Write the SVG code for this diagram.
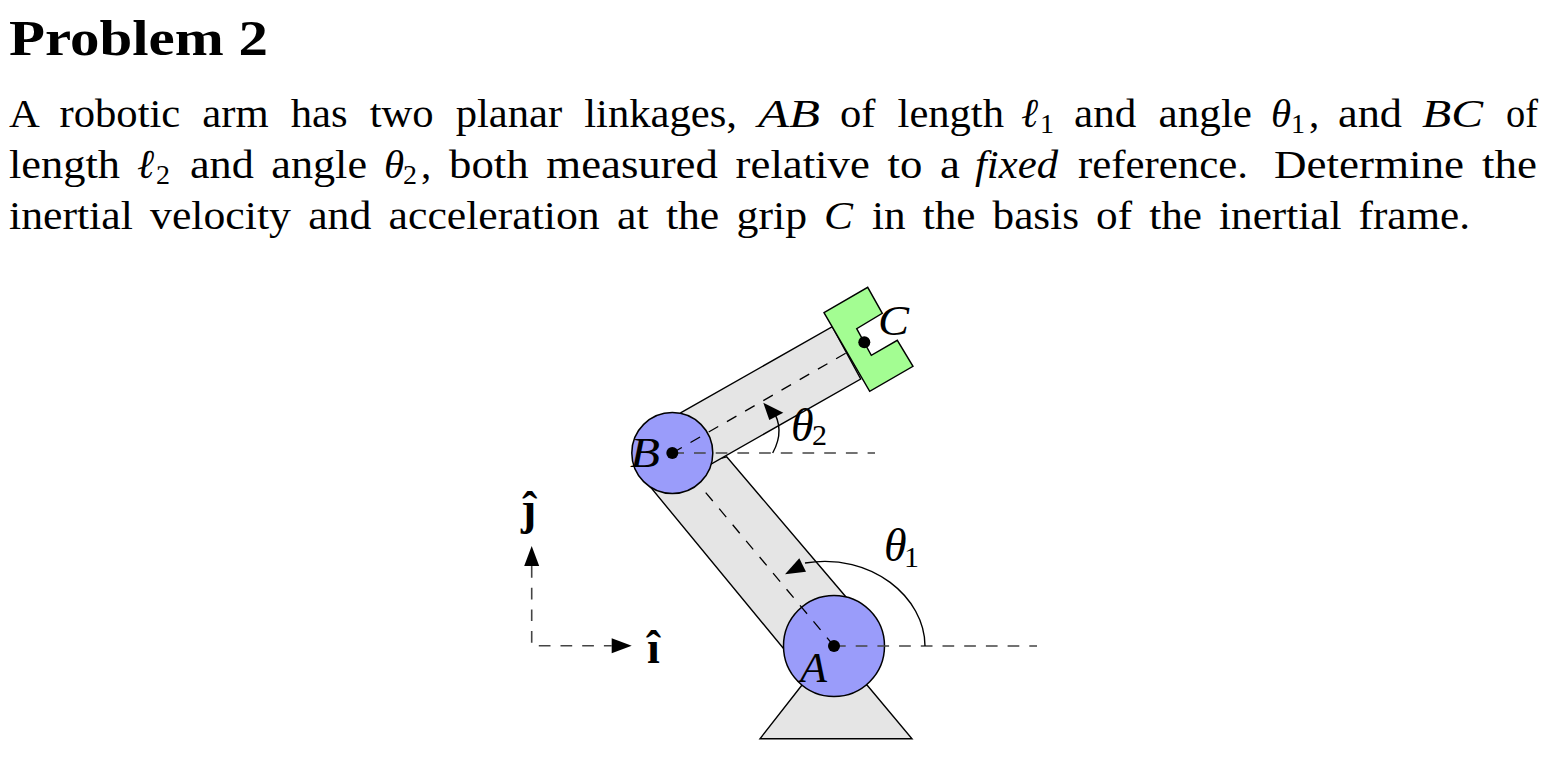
<svg xmlns="http://www.w3.org/2000/svg" width="1556" height="776" viewBox="0 0 1556 776">
<style>
text{font-family:"Liberation Serif","DejaVu Serif",serif;font-size:41px;fill:#000}
.i{font-style:italic}
.s{font-size:28px}
.w1{word-spacing:11px}
.w2{word-spacing:6px}
.h{font-weight:bold;font-size:50px}
.l{font-size:42px;font-style:italic}
.t{font-size:46px;font-style:italic}
.ls{font-size:30px}
.b{font-weight:bold;font-size:46px}
.link{fill:#e5e5e5;stroke:#000;stroke-width:1.4}
.joint{fill:#9a9cfa;stroke:#000;stroke-width:1.5}
.d1{fill:none;stroke:#000;stroke-width:1.3;stroke-dasharray:11 10}
.d2{fill:none;stroke:#444;stroke-width:1.6;stroke-dasharray:11.7 10}
.arc{fill:none;stroke:#000;stroke-width:1.4}
</style>
<rect width="1556" height="776" fill="#fff"/>
<g id="text-block">
<text class="h" x="9" y="55" textLength="259" lengthAdjust="spacingAndGlyphs">Problem 2</text>
<text class="w1" x="9" y="127" textLength="728" lengthAdjust="spacingAndGlyphs">A robotic arm has two planar linkages,</text>
<text class="i" x="758" y="127" textLength="62" lengthAdjust="spacingAndGlyphs">AB</text>
<text class="w1" x="840" y="127" textLength="164" lengthAdjust="spacingAndGlyphs">of length</text>
<text class="i" x="1021" y="127">ℓ</text><text class="s" x="1040" y="133">1</text>
<text class="w1" x="1074" y="127" textLength="178" lengthAdjust="spacingAndGlyphs">and angle</text>
<text class="i" x="1271" y="127">θ</text><text class="s" x="1291" y="133">1</text><text x="1309" y="127">,</text>
<text x="1338" y="127" textLength="64" lengthAdjust="spacingAndGlyphs">and</text>
<text class="i" x="1422" y="127" textLength="61" lengthAdjust="spacingAndGlyphs">BC</text>
<text x="1506" y="127" textLength="32" lengthAdjust="spacingAndGlyphs">of</text>
<text x="9" y="178" textLength="111" lengthAdjust="spacingAndGlyphs">length</text>
<text class="i" x="137" y="178">ℓ</text><text class="s" x="156" y="184">2</text>
<text class="w2" x="190" y="178" textLength="177" lengthAdjust="spacingAndGlyphs">and angle</text>
<text class="i" x="384" y="178">θ</text><text class="s" x="403" y="184">2</text><text x="421" y="178">,</text>
<text class="w2" x="449" y="178" textLength="511" lengthAdjust="spacingAndGlyphs">both measured relative to a</text>
<text class="i" x="975" y="178" textLength="83" lengthAdjust="spacingAndGlyphs">fixed</text>
<text x="1078" y="178" textLength="170" lengthAdjust="spacingAndGlyphs">reference.</text>
<text class="w2" x="1274" y="178" textLength="263" lengthAdjust="spacingAndGlyphs">Determine the</text>
<text class="w2" x="9" y="229" textLength="798" lengthAdjust="spacingAndGlyphs">inertial velocity and acceleration at the grip</text>
<text class="i" x="824" y="229" textLength="29" lengthAdjust="spacingAndGlyphs">C</text>
<text class="w2" x="872" y="229" textLength="598" lengthAdjust="spacingAndGlyphs">in the basis of the inertial frame.</text>
</g>
<g id="base"><polygon class="link" points="802,685 867,685 912,738.7 760,738.7"/></g>
<g id="link-ab"><polygon class="link" points="643,478 726.7,456.7 846,597 783.3,648.3"/></g>
<g id="joint-a"><circle class="joint" cx="834" cy="646" r="50.5"/></g>
<g id="link-bc"><polygon class="link" points="681,412.7 832.3,326.7 860.7,379 710.7,464.3"/></g>
<g id="joint-b"><circle class="joint" cx="672.3" cy="453" r="40.5"/></g>
<g id="gripper"><polygon points="824,312.7 867.7,287.3 882.3,313.3 856.7,328.7 871.3,355.3 897.3,340.3 913,366.3 869.7,391.3" fill="#a3fd92" stroke="#000" stroke-width="1.4"/></g>
<g id="connectors">
<path class="d1" d="M834 646L705 491.7"/>
<path class="d1" d="M672.3 453L846 353"/>
<path class="d2" d="M834 646H1037"/>
<path class="d2" d="M672.3 453H875"/>
<path class="d2" d="M531.7 566V645.7H611.7"/>
<path class="arc" d="M772.7 453C781 438 782 424 772 409"/>
<polygon points="763.3,402.7 769.3,420 783.3,412.7"/>
<path class="arc" d="M925 646C925 598 872 552 805 563"/>
<polygon points="785,574.3 799.3,558.3 806,571.7"/>
<polygon points="531.7,546 524.2,566 539.2,566"/>
<polygon points="631.7,645.7 611.7,638.2 611.7,653.2"/>
</g>
<g id="points">
<circle cx="834" cy="646" r="6"/>
<circle cx="672.3" cy="453" r="6"/>
<circle cx="864.3" cy="342.3" r="6"/>
</g>
<g id="labels">
<text class="l" x="800" y="682" textLength="27" lengthAdjust="spacingAndGlyphs">A</text>
<text class="l" x="630" y="467" textLength="30" lengthAdjust="spacingAndGlyphs">B</text>
<text class="l" x="878" y="335" textLength="31" lengthAdjust="spacingAndGlyphs">C</text>
<text class="t" x="791" y="441">θ</text><text class="ls" x="812" y="445">2</text>
<text class="t" x="884" y="561">θ</text><text class="ls" x="904" y="567">1</text>
<text class="b" x="521" y="524">ĵ</text>
<text class="b" x="647" y="663">î</text>
</g>
</svg>
